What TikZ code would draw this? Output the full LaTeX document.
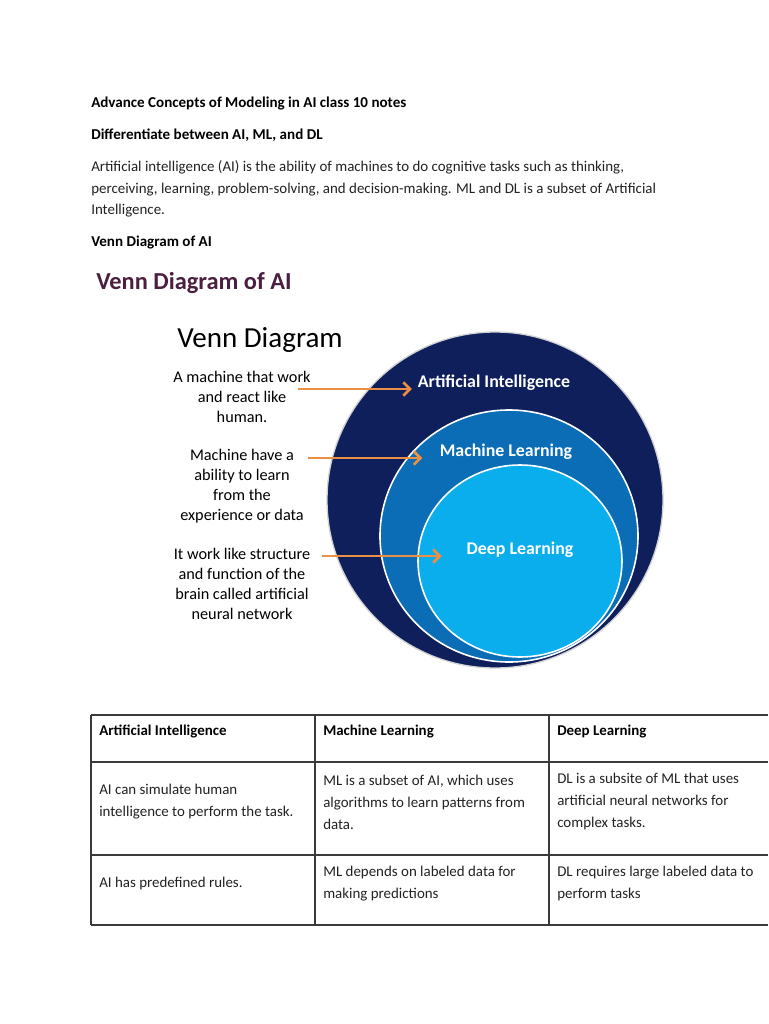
\documentclass[tikz,border=0pt]{standalone}
\usepackage{fontspec}
\setmainfont{Carlito}
\usetikzlibrary{arrows.meta,positioning}
\definecolor{ainavy}{HTML}{0E1F5B}
\definecolor{mlblue}{HTML}{0A6DB6}
\definecolor{dlblue}{HTML}{0BAEEC}
\definecolor{arrorange}{HTML}{EB8F45}
\definecolor{venntitle}{HTML}{4B1F40}
\definecolor{pagetext}{HTML}{222222}
\definecolor{gridline}{HTML}{3A3A3A}

\begin{document}
\begin{tikzpicture}[x=0.75pt,y=-0.75pt,
  pagehead/.style={font=\fontsize{11.3}{13}\selectfont\bfseries,anchor=west,inner sep=0pt},
  pagetxt/.style={font=\fontsize{11.2}{16.1}\selectfont,text=pagetext,anchor=west,align=left,inner sep=0pt},
  sidetxt/.style={font=\fontsize{12.2}{15}\selectfont,align=center,inner sep=0pt},
  circlab/.style={font=\fontsize{13.4}{15}\selectfont\bfseries,text=white,inner sep=2pt},
  orarrow/.style={draw=arrorange,line width=2.2pt,-{Straight Barb[length=5pt,width=10pt,line width=2pt]}},
  cell/.style={font=\fontsize{11.2}{16.5}\selectfont,text=pagetext,anchor=west,align=left,inner sep=0pt},
  cellhead/.style={cell,font=\fontsize{11.2}{13}\selectfont\bfseries,text=black}]
\useasboundingbox (0,0) rectangle (768,1024);
\fill[white] (0,0) rectangle (768,1024);

% page text
\node[pagehead] (title) at (91,103) {Advance Concepts of Modeling in AI class 10 notes};
\node[pagehead] (diff) at (91,135) {Differentiate between AI, ML, and DL};
\node[pagetxt] (intro) at (91,189) {Artificial intelligence (AI) is the ability of machines to do cognitive tasks such as thinking,\\
  perceiving, learning, problem-solving, and decision-making. ML and DL is a subset of Artificial\\
  Intelligence.};
\node[pagehead] (vennhead) at (91,242) {Venn Diagram of AI};

% venn picture
\node[font=\fontsize{18.3}{20}\selectfont\bfseries,text=venntitle,anchor=west,inner sep=0pt]
  (venntitle) at (96,283) {Venn Diagram of AI};
\node[font=\fontsize{21.8}{24}\selectfont,inner sep=0pt] (vennname) at (260,340) {Venn Diagram};

\fill[ainavy,draw=gray!35,line width=1pt] (495,500) ellipse [x radius=126pt,y radius=126pt];
\fill[mlblue,draw=white,line width=1.2pt] (509,536) ellipse [x radius=96.75pt,y radius=94.5pt];
\fill[dlblue,draw=white,line width=1.2pt] (520,561) ellipse [x radius=76.5pt,y radius=72pt];

\node[circlab] (ailab) at (494,383) {Artificial Intelligence};
\node[circlab] (mllab) at (506,452) {Machine Learning};
\node[circlab] (dllab) at (520,550) {Deep Learning};

\node[sidetxt] (aitxt) at (242,397) {A machine that work\\and react like\\human.};
\node[sidetxt] (mltxt) at (242,486) {Machine have a\\ability to learn\\from the\\experience or data};
\node[sidetxt] (dltxt) at (242,584) {It work like structure\\and function of the\\brain called artificial\\neural network};

\coordinate (aistart) at (298,389);
\coordinate (mlstart) at (308,458);
\coordinate (dlstart) at (322,556);
\draw[orarrow] (aistart) -- ([xshift=-2.25pt]aistart -| ailab.west);
\draw[orarrow] (mlstart) -- ([xshift=-11pt]mlstart -| mllab.west);
\draw[orarrow] (dlstart) -- ([xshift=-16.5pt]dlstart -| dllab.west);

% table
\foreach \y in {715,762,855,925}
  \draw[gridline,line width=0.9pt] (91,\y) -- (768,\y);
\foreach \x in {91,315,549}
  \draw[gridline,line width=0.9pt] (\x,715) -- (\x,925);

\node[cellhead] (h1) at (99,732) {Artificial Intelligence};
\node[cellhead] (h2) at (323,732) {Machine Learning};
\node[cellhead] (h3) at (557,732) {Deep Learning};
\node[cell] (r11) at (99,802) {AI can simulate human\\intelligence to perform the task.};
\node[cell] (r12) at (323,802) {ML is a subset of AI, which uses\\algorithms to learn patterns from\\data.};
\node[cell] (r13) at (557,802) {DL is a subsite of ML that uses\\artificial neural networks for\\complex tasks.};
\node[cell] (r21) at (99,884) {AI has predefined rules.};
\node[cell] (r22) at (323,884) {ML depends on labeled data for\\making predictions};
\node[cell] (r23) at (557,884) {DL requires large labeled data to\\perform tasks};
\end{tikzpicture}
\end{document}
